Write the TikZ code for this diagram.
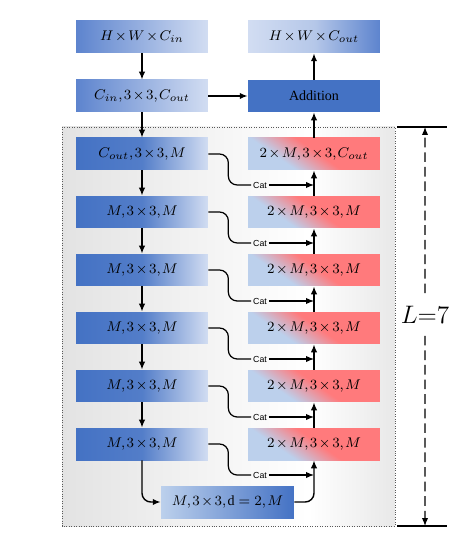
\documentclass[tikz,border=0pt]{standalone}
\usepackage{fontspec}
\setmainfont{Liberation Serif}
\newfontfamily\catfont{Liberation Sans}
\usetikzlibrary{arrows.meta,positioning,calc}
\newcommand{\tightmath}{\thinmuskip=1.5mu\relax\medmuskip=2mu\relax}
\definecolor{bdark}{HTML}{4472C4}
\definecolor{bmid}{HTML}{5D84CE}
\definecolor{blight}{HTML}{D2DDF2}
\definecolor{rlight}{HTML}{BCD0EC}
\definecolor{rred}{HTML}{FF7A7C}
\pgfdeclarehorizontalshading{encshade}{100bp}{color(0bp)=(bdark); color(25bp)=(bdark);
  color(50bp)=(bdark!92!white); color(75bp)=(blight); color(100bp)=(blight)}
\pgfdeclarehorizontalshading{inshade}{100bp}{color(0bp)=(bmid); color(25bp)=(bmid);
  color(75bp)=(blight); color(100bp)=(blight)}
\pgfdeclarehorizontalshading{outshade}{100bp}{color(0bp)=(blight); color(25bp)=(blight);
  color(50bp)=(blight!80!bdark); color(75bp)=(bmid); color(100bp)=(bmid)}
\pgfdeclarehorizontalshading{midshade}{100bp}{color(0bp)=(rlight); color(25bp)=(rlight);
  color(75bp)=(bdark); color(100bp)=(bdark)}
\pgfdeclarehorizontalshading{decshade}{100bp}{color(0bp)=(rlight); color(25bp)=(rlight);
  color(34bp)=(rlight); color(52bp)=(rred); color(100bp)=(rred)}
\pgfdeclarehorizontalshading{bgshade}{100bp}{color(0bp)=(gray!22); color(25bp)=(gray!22);
  color(50bp)=(gray!7); color(62bp)=(white); color(75bp)=(gray!18); color(100bp)=(gray!18)}
\tikzset{
  >={Latex[length=4.5pt,width=3.6pt]},
  blk/.style={minimum width=2.64cm,minimum height=0.64cm,inner sep=1pt,
    font=\footnotesize\tightmath},
  inbox/.style={blk,shading=inshade},
  outbox/.style={blk,shading=outshade},
  addbox/.style={blk,fill=bdark},
  encbox/.style={blk,shading=encshade},
  decbox/.style={blk,shading=decshade,shading angle=55},
  midbox/.style={blk,minimum width=2.66cm,shading=midshade},
  flow/.style={->,line width=0.8pt},
  catline/.style={line width=0.7pt,rounded corners=5pt},
  catlbl/.style={font=\catfont\tiny,inner sep=1pt},
  span/.style={line width=0.7pt,dash pattern=on 5.5pt off 2.8pt},
}
\begin{document}
\begin{tikzpicture}[x=0.02cm,y=-0.02cm]
  \useasboundingbox (0,0) rectangle (474,543);
  % repeated block
  \draw[densely dotted,gray!70!black,shading=bgshade] (62,127) rectangle (395,526);

  \node[inbox] (in) at (142,37) {$H\times W\times C_{in}$};
  \node[inbox] (conv) at (142,96) {$C_{in},3\times 3,C_{out}$};
  \node[outbox] (out) at (314,37) {$H\times W\times C_{out}$};
  \node[addbox] (add) at (314,96) {Addition};

  \foreach \i/\t in {1/C_{out},2/M,3/M,4/M,5/M,6/M}
    \node[encbox] (l\i) at (142,{96+58*\i}) {$\t,3\times 3,M$};
  \foreach \i/\t in {1/C_{out},2/M,3/M,4/M,5/M,6/M}
    \node[decbox] (r\i) at (314,{96+58*\i}) {$2\times M,3\times 3,\t$};
  \node[midbox] (d) at (227.5,502) {$M,3\times 3,\mathrm{d}=2,M$};

  \draw[flow] (in) -- (conv);
  \draw[flow] (conv) -- (l1);
  \draw[flow] (conv) -- (add);
  \draw[flow] (add) -- (out);
  \draw[flow] (r1) -- (add);
  \foreach \i [evaluate=\i as \j using int(\i+1)] in {1,...,5} {
    \draw[flow] (l\i) -- (l\j);
    \draw[flow] (r\j) -- (r\i);
  }
  \draw[flow,rounded corners=5pt] (l6) |- (d);
  \draw[flow,rounded corners=5pt] (d) -| (r6);

  % skip connections
  \foreach \i in {1,...,6} {
    \node[catlbl] (c\i) at (260,{96+58*\i+31}) {Cat};
    \coordinate (m\i) at (314,{96+58*\i+31});
    \draw[catline] (l\i.east) -- ++(20,0) |- (c\i.west);
    \draw[->,line width=0.7pt] (c\i.east) -- (m\i);
  }

  % depth marker
  \coordinate (ltop) at (425,127);
  \coordinate (lbot) at (425,526);
  \draw[line width=0.9pt] ($(ltop)+(-28,0)$) -- ($(ltop)+(22,0)$);
  \draw[line width=0.9pt] ($(lbot)+(-28,0)$) -- ($(lbot)+(22,0)$);
  \node[font=\Large,inner ysep=7pt,inner xsep=0pt] (lbl) at ($(ltop)!0.47!(lbot)$) {$L{=}7$};
  \draw[span,->] (lbl.north) -- (ltop);
  \draw[span,->] (lbl.south) -- (lbot);
\end{tikzpicture}
\end{document}
